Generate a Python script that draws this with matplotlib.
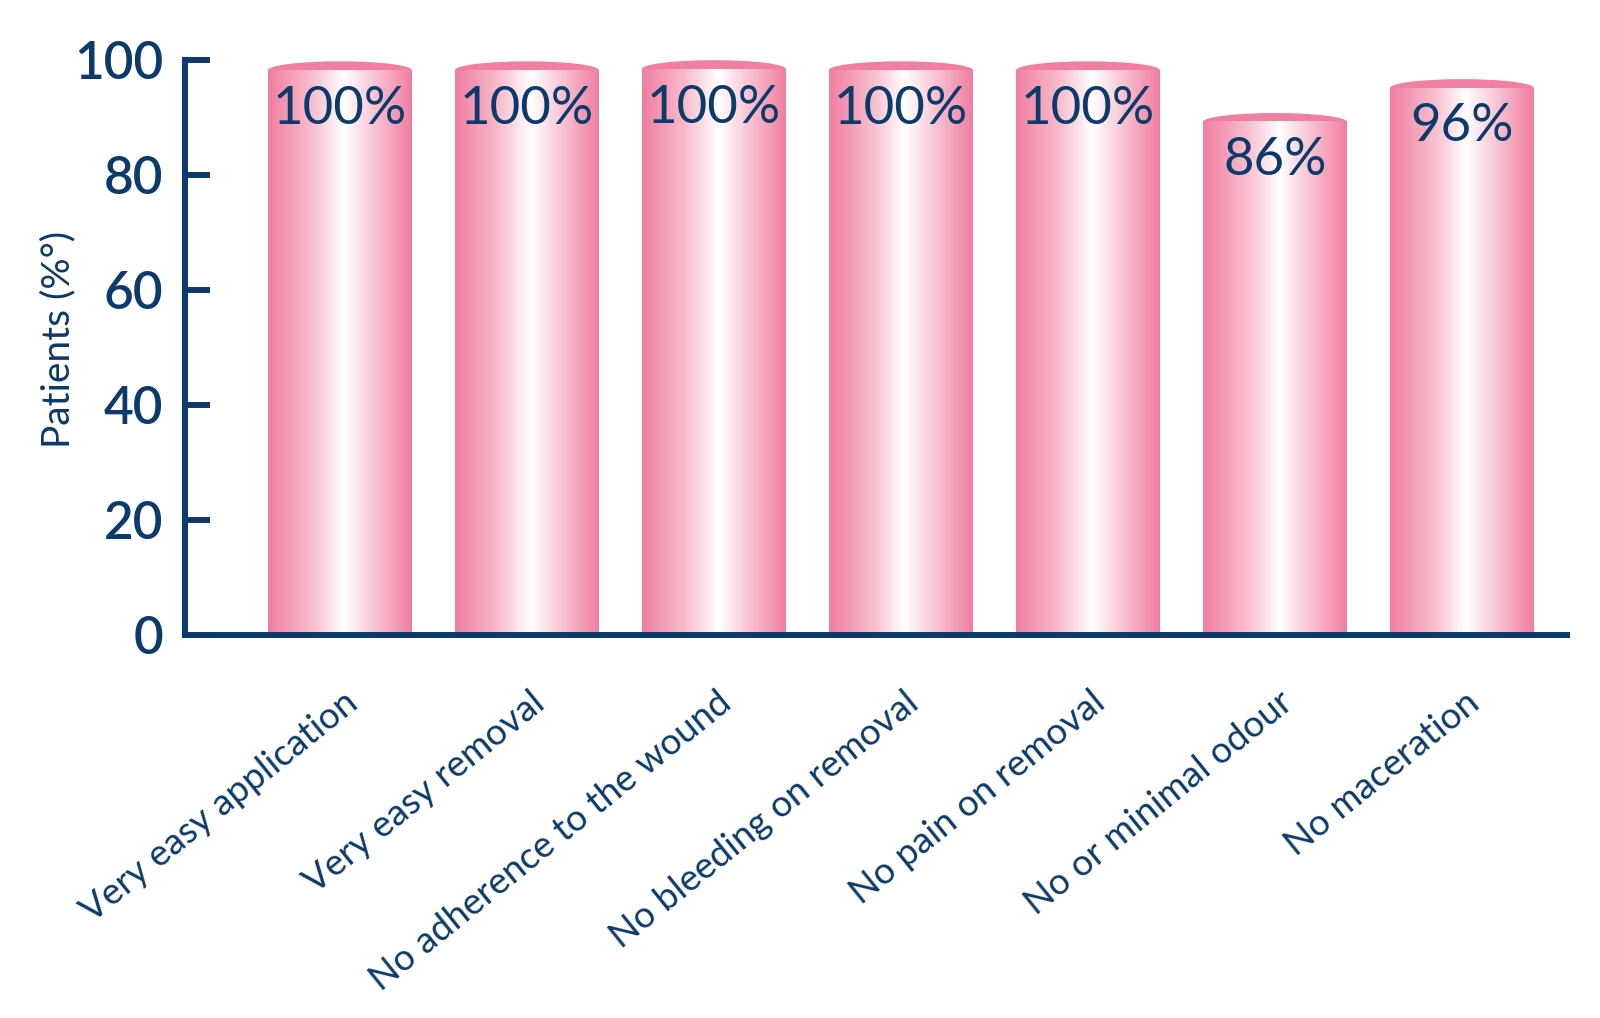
import numpy as np
import matplotlib
matplotlib.use("Agg")
import matplotlib.pyplot as plt
from matplotlib.colors import LinearSegmentedColormap
from matplotlib.patches import Ellipse

categories = [
    "Very easy application",
    "Very easy removal",
    "No adherence to the wound",
    "No bleeding on removal",
    "No pain on removal",
    "No or minimal odour",
    "No maceration",
]
heights = [98.3, 98.3, 98.5, 98.3, 98.3, 89.3, 95.2]
value_labels = ["100%", "100%", "100%", "100%", "100%", "86%", "96%"]
yticks = [0, 20, 40, 60, 80, 100]

NAVY = "#0b3a6b"
PINK = "#f07fa0"

plt.rcParams["font.family"] = ["Lato", "DejaVu Sans"]

fig = plt.figure(figsize=(16, 10.18), dpi=100)
ax = fig.add_axes([0.1159, 0.3762, 0.8634, 0.5644])

grad = LinearSegmentedColormap.from_list(
    "cyl", [(0.0, "#f07ea0"), (0.3, "#f8bccd"), (0.53, "#ffffff"),
            (0.75, "#f8c2d2"), (1.0, "#f07ea0")])
strip = np.linspace(0, 1, 256).reshape(1, -1)

bw = 0.77
cap_h = 3.1
for i, h in enumerate(heights):
    ax.add_patch(Ellipse((i, h), bw, cap_h, facecolor=PINK, edgecolor="none", zorder=1))
    ax.imshow(strip, cmap=grad, extent=(i - bw / 2, i + bw / 2, 0, h),
              aspect="auto", interpolation="bicubic", zorder=2)
    ax.text(i, h - 9.3, value_labels[i], ha="center", va="baseline",
            fontsize=38, color=NAVY, zorder=3)
    ax.text(i + 0.07, -11.0, categories[i], rotation=39, ha="right", va="center",
            rotation_mode="anchor", fontsize=26.5, color=NAVY, clip_on=False)

ax.set_xlim(-0.826, 6.561)
ax.set_ylim(0, 100)
ax.set_xticks([])
ax.set_yticks(yticks)
ax.tick_params(axis="y", direction="in", length=18, width=4.3, pad=16,
               labelsize=37, colors=NAVY)
for lab in ax.get_yticklabels():
    lab.set_fontweight("semibold")

for s in ["top", "right"]:
    ax.spines[s].set_visible(False)
for s in ["left", "bottom"]:
    ax.spines[s].set_color(NAVY)
    ax.spines[s].set_linewidth(4.3)
    ax.spines[s].set_zorder(4)

ax.set_ylabel("Patients (%°)", fontsize=28, color=NAVY)
ax.yaxis.set_label_coords(-0.079, 0.515)

fig.savefig("out.png", dpi=100)
